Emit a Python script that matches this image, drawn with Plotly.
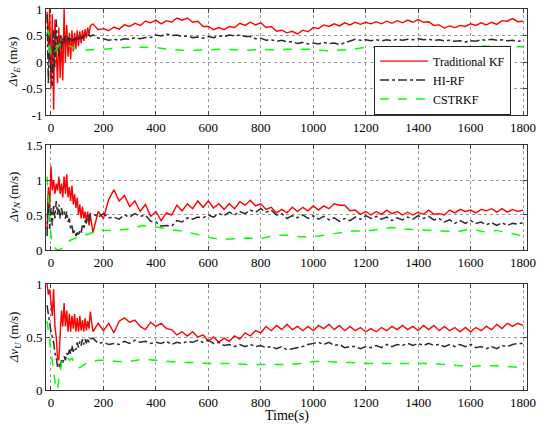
import plotly.graph_objects as go
from plotly.subplots import make_subplots

# ---------------- time grids (s) ----------------
T_EARLY = list(range(-15, 151, 5))          # 34 samples
T_LATE = list(range(160, 1801, 20))         # 83 samples
T_MAIN = T_EARLY + T_LATE
T_GREEN = [-15, -10, -5, 0, 5, 10, 15, 20, 25, 30,
           40, 50, 60, 70, 80, 90, 100, 110, 120,
           140, 160, 180, 200] + list(range(250, 1801, 50))

# ---------------- East velocity error ----------------
kf_e = [0.95, 0.30, 1.00, -0.50, 0.90, -0.90, 0.80, 0.20, -0.40, 0.65,
        -0.30, 0.50, -0.35, 1.00, 0.00, 0.70, 0.10, 0.55, 0.05, 0.60,
        0.20, 0.55, 0.25, 0.60, 0.30, 0.58, 0.35, 0.60, 0.40, 0.62,
        0.45, 0.65, 0.52, 0.68,
        0.72, 0.61, 0.63, 0.59, 0.66, 0.62, 0.70, 0.67, 0.73, 0.69,
        0.77, 0.74, 0.79, 0.72, 0.78, 0.75, 0.83, 0.79, 0.83, 0.75,
        0.77, 0.67, 0.67, 0.61, 0.65, 0.61, 0.67, 0.65, 0.73, 0.69,
        0.75, 0.70, 0.74, 0.65, 0.67, 0.58, 0.60, 0.55, 0.58, 0.53,
        0.60, 0.57, 0.65, 0.63, 0.70, 0.67, 0.72, 0.68, 0.74, 0.70,
        0.75, 0.71, 0.75, 0.72, 0.76, 0.72, 0.77, 0.73, 0.78, 0.74,
        0.79, 0.75, 0.80, 0.75, 0.76, 0.69, 0.70, 0.64, 0.68, 0.65,
        0.69, 0.67, 0.72, 0.69, 0.74, 0.70, 0.75, 0.71, 0.78, 0.77,
        0.82, 0.76, 0.77]
hi_e = [0.90, -0.40, 0.50, -0.30, -0.45, 0.60, -0.10, 0.80, 0.30, 0.10,
        0.50, 0.25, 0.45, 0.35, 0.50, 0.40, 0.48, 0.38, 0.46, 0.40,
        0.47, 0.40, 0.46, 0.41, 0.47, 0.42, 0.48, 0.44, 0.50, 0.45,
        0.52, 0.47, 0.52, 0.48,
        0.51, 0.45, 0.44, 0.41, 0.43, 0.41, 0.44, 0.43, 0.46, 0.44,
        0.46, 0.46, 0.51, 0.49, 0.53, 0.50, 0.51, 0.48, 0.49, 0.46,
        0.47, 0.45, 0.48, 0.46, 0.49, 0.48, 0.51, 0.49, 0.51, 0.48,
        0.48, 0.44, 0.45, 0.41, 0.42, 0.39, 0.41, 0.38, 0.38, 0.35,
        0.37, 0.34, 0.36, 0.34, 0.37, 0.35, 0.36, 0.33, 0.36, 0.40,
        0.43, 0.41, 0.42, 0.40, 0.42, 0.40, 0.42, 0.40, 0.43, 0.41,
        0.43, 0.42, 0.44, 0.42, 0.43, 0.41, 0.42, 0.40, 0.41, 0.39,
        0.40, 0.38, 0.40, 0.39, 0.42, 0.41, 0.43, 0.41, 0.42, 0.40,
        0.41, 0.39, 0.40]
cs_e = [0.55, 0.60, 0.30, 0.15, 0.10, 0.12, 0.18, 0.22, 0.28, 0.32,
        0.35, 0.35, 0.33, 0.30, 0.28, 0.26, 0.24, 0.22, 0.22,
        0.23, 0.23, 0.24, 0.24,
        0.26, 0.28, 0.28, 0.27, 0.24, 0.22, 0.22, 0.23, 0.24, 0.23,
        0.22, 0.24, 0.23, 0.24, 0.24, 0.24, 0.21, 0.23, 0.24, 0.28,
        0.28, 0.29, 0.28, 0.28, 0.28, 0.27, 0.26, 0.26, 0.30, 0.29,
        0.29, 0.29]

# ---------------- North velocity error ----------------
kf_n = [0.30, 0.90, 0.60, 1.20, 0.85, 1.00, 0.80, 0.95, 0.85, 1.05,
        0.80, 0.95, 0.75, 1.05, 0.80, 1.08, 0.75, 0.90, 0.70, 0.92,
        0.65, 0.80, 0.60, 0.75, 0.50, 0.65, 0.45, 0.62, 0.45, 0.55,
        0.40, 0.55, 0.35, 0.50,
        0.25, 0.55, 0.45, 0.72, 0.86, 0.70, 0.78, 0.62, 0.70, 0.55,
        0.65, 0.48, 0.55, 0.42, 0.53, 0.50, 0.64, 0.56, 0.66, 0.59,
        0.70, 0.61, 0.70, 0.60, 0.66, 0.58, 0.66, 0.59, 0.69, 0.64,
        0.71, 0.63, 0.66, 0.58, 0.61, 0.53, 0.58, 0.53, 0.61, 0.55,
        0.61, 0.56, 0.63, 0.57, 0.63, 0.59, 0.66, 0.64, 0.64, 0.56,
        0.57, 0.51, 0.55, 0.50, 0.55, 0.51, 0.57, 0.52, 0.55, 0.50,
        0.54, 0.50, 0.54, 0.51, 0.57, 0.51, 0.52, 0.50, 0.57, 0.53,
        0.58, 0.55, 0.57, 0.53, 0.58, 0.56, 0.59, 0.54, 0.59, 0.54,
        0.58, 0.55, 0.57]
hi_n = [0.20, 0.80, 0.30, 0.60, 0.35, 0.65, 0.45, 0.70, 0.50, 0.65,
        0.45, 0.60, 0.50, 0.55, 0.45, 0.55, 0.40, 0.45, 0.30, 0.35,
        0.22, 0.28, 0.20, 0.25, 0.20, 0.28, 0.25, 0.35, 0.30, 0.42,
        0.38, 0.50, 0.42, 0.52,
        0.52, 0.47, 0.52, 0.46, 0.47, 0.44, 0.50, 0.47, 0.52, 0.48,
        0.50, 0.41, 0.40, 0.34, 0.35, 0.34, 0.42, 0.40, 0.46, 0.44,
        0.47, 0.46, 0.50, 0.47, 0.52, 0.49, 0.54, 0.50, 0.55, 0.52,
        0.57, 0.54, 0.59, 0.54, 0.57, 0.50, 0.52, 0.45, 0.49, 0.46,
        0.50, 0.45, 0.49, 0.44, 0.48, 0.43, 0.46, 0.41, 0.45, 0.42,
        0.47, 0.44, 0.49, 0.45, 0.48, 0.44, 0.47, 0.42, 0.46, 0.43,
        0.47, 0.44, 0.49, 0.45, 0.48, 0.43, 0.45, 0.40, 0.43, 0.38,
        0.42, 0.38, 0.42, 0.38, 0.40, 0.36, 0.39, 0.35, 0.39, 0.35,
        0.38, 0.37, 0.39]
cs_n = [1.05, 0.70, 0.40, 0.20, 0.10, 0.06, 0.03, 0.01, 0.00, 0.00,
        0.02, 0.06, 0.10, 0.13, 0.15, 0.17, 0.18, 0.19, 0.20,
        0.23, 0.25, 0.30, 0.28,
        0.28, 0.30, 0.35, 0.33, 0.29, 0.27, 0.23, 0.18, 0.15, 0.16,
        0.17, 0.16, 0.21, 0.21, 0.19, 0.19, 0.22, 0.25, 0.27, 0.27,
        0.30, 0.32, 0.30, 0.29, 0.28, 0.27, 0.26, 0.30, 0.26, 0.28,
        0.24, 0.20]

# ---------------- Up velocity error ----------------
kf_u = [1.00, 0.90, 0.95, 0.85, 0.70, 0.95, 0.60, 0.50, 0.30, 0.28,
        0.55, 0.75, 0.60, 0.82, 0.60, 0.75, 0.55, 0.72, 0.55, 0.70,
        0.58, 0.72, 0.55, 0.68, 0.55, 0.70, 0.56, 0.66, 0.55, 0.68,
        0.56, 0.65, 0.58, 0.74,
        0.55, 0.63, 0.56, 0.63, 0.54, 0.65, 0.68, 0.64, 0.66, 0.60,
        0.57, 0.64, 0.60, 0.63, 0.58, 0.57, 0.52, 0.55, 0.51, 0.55,
        0.50, 0.52, 0.46, 0.50, 0.45, 0.49, 0.46, 0.51, 0.48, 0.54,
        0.51, 0.56, 0.54, 0.60, 0.56, 0.61, 0.57, 0.62, 0.57, 0.60,
        0.56, 0.60, 0.56, 0.61, 0.58, 0.62, 0.57, 0.61, 0.56, 0.60,
        0.56, 0.59, 0.55, 0.58, 0.55, 0.59, 0.56, 0.60, 0.57, 0.61,
        0.57, 0.60, 0.56, 0.61, 0.57, 0.61, 0.56, 0.60, 0.56, 0.59,
        0.55, 0.59, 0.55, 0.59, 0.56, 0.60, 0.57, 0.62, 0.58, 0.63,
        0.60, 0.63, 0.61]
hi_u = [0.80, 0.70, 0.60, 0.55, 0.50, 0.45, 0.35, 0.30, 0.22, 0.25,
        0.20, 0.28, 0.25, 0.32, 0.28, 0.35, 0.32, 0.38, 0.34, 0.42,
        0.36, 0.40, 0.38, 0.45, 0.40, 0.46, 0.42, 0.48, 0.43, 0.48,
        0.44, 0.49, 0.45, 0.48,
        0.49, 0.44, 0.45, 0.43, 0.44, 0.43, 0.46, 0.44, 0.47, 0.45,
        0.46, 0.44, 0.45, 0.44, 0.46, 0.43, 0.45, 0.44, 0.46, 0.45,
        0.47, 0.45, 0.47, 0.44, 0.45, 0.42, 0.43, 0.41, 0.43, 0.41,
        0.43, 0.41, 0.42, 0.40, 0.41, 0.39, 0.41, 0.38, 0.39, 0.40,
        0.41, 0.43, 0.44, 0.45, 0.43, 0.45, 0.42, 0.43, 0.40, 0.41,
        0.41, 0.39, 0.41, 0.40, 0.42, 0.40, 0.43, 0.41, 0.43, 0.42,
        0.44, 0.42, 0.44, 0.42, 0.44, 0.42, 0.43, 0.41, 0.43, 0.41,
        0.43, 0.41, 0.43, 0.40, 0.41, 0.39, 0.41, 0.39, 0.42, 0.41,
        0.43, 0.44, 0.44]
cs_u = [0.65, 0.55, 0.45, 0.35, 0.25, 0.15, 0.08, 0.02, 0.00, 0.12,
        0.25, 0.30, 0.32, 0.28, 0.30, 0.25, 0.22, 0.21, 0.23,
        0.26, 0.27, 0.28, 0.28,
        0.27, 0.27, 0.29, 0.28, 0.27, 0.26, 0.26, 0.25, 0.25, 0.25,
        0.24, 0.24, 0.24, 0.24, 0.25, 0.27, 0.27, 0.26, 0.26, 0.25,
        0.25, 0.25, 0.25, 0.25, 0.25, 0.24, 0.23, 0.22, 0.23, 0.23,
        0.22, 0.21]

SERIES_NAMES = ["Traditional KF", "HI-RF", "CSTRKF"]
Y_TITLES = ["<i>Δv</i><sub><i>E</i></sub> (m/s)",
            "<i>Δv</i><sub><i>N</i></sub> (m/s)",
            "<i>Δv</i><sub><i>U</i></sub> (m/s)"]
X_TITLE = "Time(s)"
Y_TICKS = [[-1, -0.5, 0, 0.5, 1], [0, 0.5, 1, 1.5], [0, 0.5, 1]]
Y_TICKTEXT = [["-1", "-0.5", "0", "0.5", "1"], ["0", "0.5", "1", "1.5"], ["0", "0.5", "1"]]
Y_RANGES = [[-1, 1], [0, 1.5], [0, 1]]
X_TICKS = [0, 200, 400, 600, 800, 1000, 1200, 1400, 1600, 1800]

panels = [(kf_e, hi_e, cs_e), (kf_n, hi_n, cs_n), (kf_u, hi_u, cs_u)]

FONT = "Liberation Serif"
fig = make_subplots(rows=3, cols=1)

for i, (kf, hi, cs) in enumerate(panels):
    r = i + 1
    show = (i == 0)
    fig.add_trace(go.Scatter(x=T_MAIN, y=kf, mode="lines", name=SERIES_NAMES[0],
                             line=dict(color="#ff0000", width=1.4),
                             showlegend=show, legendrank=1), row=r, col=1)
    fig.add_trace(go.Scatter(x=T_MAIN, y=hi, mode="lines", name=SERIES_NAMES[1],
                             line=dict(color="#2b2b2b", width=1.5, dash="dashdot"),
                             showlegend=show, legendrank=2), row=r, col=1)
    fig.add_trace(go.Scatter(x=T_GREEN, y=cs, mode="lines", name=SERIES_NAMES[2],
                             line=dict(color="#00ff00", width=1.5, dash="dash"),
                             showlegend=show, legendrank=3), row=r, col=1)

# panel domains
domains = [[0.7218, 1.0], [0.3675, 0.643], [0.0, 0.278]]
annotations = []
for i in range(3):
    xa = "xaxis" if i == 0 else f"xaxis{i+1}"
    ya = "yaxis" if i == 0 else f"yaxis{i+1}"
    fig.layout[xa].update(
        range=[-19, 1815], tickvals=X_TICKS, ticks="inside", ticklen=4,
        showline=True, mirror="ticks", linecolor="#333333", linewidth=1,
        showgrid=True, gridcolor="#9a9a9a", griddash="dot", gridwidth=1,
        zeroline=False, tickfont=dict(family=FONT, size=13, color="black"),
        automargin=False,
    )
    fig.layout[ya].update(
        domain=domains[i], range=Y_RANGES[i], tickvals=Y_TICKS[i], ticktext=Y_TICKTEXT[i],
        ticks="inside", ticklen=4,
        showline=True, mirror="ticks", linecolor="#333333", linewidth=1,
        showgrid=True, gridcolor="#9a9a9a", griddash="dot", gridwidth=1,
        zeroline=False, tickfont=dict(family=FONT, size=13, color="black"),
        automargin=False,
    )
    annotations.append(dict(
        text=Y_TITLES[i], xref="paper", yref="paper",
        x=-0.066, y=(domains[i][0] + domains[i][1]) / 2,
        xanchor="center", yanchor="middle", textangle=-90, showarrow=False,
        font=dict(family=FONT, size=13, color="black"),
    ))

annotations.append(dict(
    text=X_TITLE, xref="paper", yref="paper", x=0.5, y=-0.068,
    xanchor="center", yanchor="middle", showarrow=False,
    font=dict(family=FONT, size=14, color="black"),
))

fig.update_layout(
    width=550, height=427,
    margin=dict(l=46, r=23, t=9, b=37),
    paper_bgcolor="white", plot_bgcolor="white",
    font=dict(family=FONT, size=13, color="black"),
    annotations=annotations,
    legend=dict(x=0.682, y=0.904, xanchor="left", yanchor="top",
                bgcolor="white", bordercolor="#222222", borderwidth=1,
                font=dict(family=FONT, size=12, color="black"),
                itemwidth=48, tracegroupgap=0),
)

fig.write_html("out.html", config={"displayModeBar": False},
               post_script="document.body.style.margin='0';document.body.style.padding='0';")
